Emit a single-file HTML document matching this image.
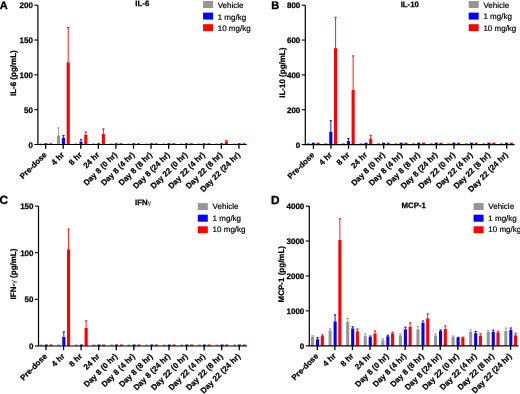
<!DOCTYPE html>
<html><head><meta charset="utf-8"><style>
html,body{margin:0;padding:0;background:#fff;}
body{width:520px;height:394px;overflow:hidden;}
svg{display:block;}
text{font-family:"Liberation Sans",Arial,sans-serif;fill:#000;text-rendering:geometricPrecision;}
.tk,.xl,.let,.ttl,.yl{stroke:#000;stroke-width:0.25px;}
.tk{font-size:8.0px;font-weight:bold;}
.xl{font-size:8.0px;font-weight:bold;}
.let{font-size:11px;font-weight:bold;stroke-width:0.35px !important;}
.ttl{font-size:7.8px;font-weight:bold;}
.yl{font-size:8px;font-weight:bold;}
.lg{font-size:8px;stroke:#000;stroke-width:0.2px;}
.gam{font-weight:normal;font-family:"Liberation Sans",sans-serif;stroke:none;fill:#333;font-size:7.4px;}
</style></head><body>
<svg width="520" height="394" viewBox="0 0 520 394">
<rect width="520" height="394" fill="#fff"/>
<rect x="39.35" y="143.39" width="3.1" height="1.11" fill="#969696"/>
<rect x="44.35" y="143.25" width="3.1" height="1.25" fill="#0000ff"/>
<rect x="49.1" y="143.25" width="3.1" height="1.25" fill="#ff0000"/>
<rect x="56.92" y="135.45" width="3.1" height="9.05" fill="#969696"/>
<line x1="58.47" y1="127.88" x2="58.47" y2="135.45" stroke="#969696" stroke-width="0.9"/>
<line x1="57.32" y1="127.88" x2="59.62" y2="127.88" stroke="#969696" stroke-width="1"/>
<rect x="61.92" y="137.74" width="3.1" height="6.76" fill="#0000ff"/>
<line x1="63.47" y1="135.55" x2="63.47" y2="137.74" stroke="#0000ff" stroke-width="0.9"/>
<line x1="62.32" y1="135.55" x2="64.62" y2="135.55" stroke="#0000ff" stroke-width="1"/>
<rect x="66.67" y="62.31" width="3.1" height="82.19" fill="#ff0000"/>
<line x1="68.22" y1="27.59" x2="68.22" y2="62.31" stroke="#ff0000" stroke-width="0.9"/>
<line x1="67.07" y1="27.59" x2="69.37" y2="27.59" stroke="#ff0000" stroke-width="1"/>
<rect x="74.49" y="143.39" width="3.1" height="1.11" fill="#969696"/>
<rect x="79.49" y="141.71" width="3.1" height="2.79" fill="#0000ff"/>
<line x1="81.04" y1="139.72" x2="81.04" y2="141.71" stroke="#0000ff" stroke-width="0.9"/>
<line x1="79.89" y1="139.72" x2="82.19" y2="139.72" stroke="#0000ff" stroke-width="1"/>
<rect x="84.24" y="134.96" width="3.1" height="9.54" fill="#ff0000"/>
<line x1="85.79" y1="132.06" x2="85.79" y2="134.96" stroke="#ff0000" stroke-width="0.9"/>
<line x1="84.64" y1="132.06" x2="86.94" y2="132.06" stroke="#ff0000" stroke-width="1"/>
<rect x="92.06" y="143.39" width="3.1" height="1.11" fill="#969696"/>
<rect x="97.06" y="143.25" width="3.1" height="1.25" fill="#0000ff"/>
<rect x="101.81" y="134.05" width="3.1" height="10.45" fill="#ff0000"/>
<line x1="103.36" y1="128.93" x2="103.36" y2="134.05" stroke="#ff0000" stroke-width="0.9"/>
<line x1="102.21" y1="128.93" x2="104.51" y2="128.93" stroke="#ff0000" stroke-width="1"/>
<rect x="109.63" y="143.39" width="3.1" height="1.11" fill="#969696"/>
<rect x="114.63" y="143.25" width="3.1" height="1.25" fill="#0000ff"/>
<rect x="119.38" y="143.25" width="3.1" height="1.25" fill="#ff0000"/>
<rect x="127.2" y="143.39" width="3.1" height="1.11" fill="#969696"/>
<rect x="132.2" y="143.25" width="3.1" height="1.25" fill="#0000ff"/>
<rect x="136.95" y="143.25" width="3.1" height="1.25" fill="#ff0000"/>
<rect x="144.77" y="143.39" width="3.1" height="1.11" fill="#969696"/>
<rect x="149.77" y="143.25" width="3.1" height="1.25" fill="#0000ff"/>
<rect x="154.52" y="143.25" width="3.1" height="1.25" fill="#ff0000"/>
<rect x="162.34" y="143.39" width="3.1" height="1.11" fill="#969696"/>
<rect x="167.34" y="143.25" width="3.1" height="1.25" fill="#0000ff"/>
<rect x="172.09" y="143.25" width="3.1" height="1.25" fill="#ff0000"/>
<rect x="179.91" y="143.39" width="3.1" height="1.11" fill="#969696"/>
<rect x="184.91" y="143.25" width="3.1" height="1.25" fill="#0000ff"/>
<rect x="189.66" y="143.25" width="3.1" height="1.25" fill="#ff0000"/>
<rect x="197.48" y="143.39" width="3.1" height="1.11" fill="#969696"/>
<rect x="202.48" y="143.25" width="3.1" height="1.25" fill="#0000ff"/>
<rect x="207.23" y="143.25" width="3.1" height="1.25" fill="#ff0000"/>
<rect x="215.05" y="143.39" width="3.1" height="1.11" fill="#969696"/>
<rect x="220.05" y="143.25" width="3.1" height="1.25" fill="#0000ff"/>
<rect x="224.8" y="141.51" width="3.1" height="2.99" fill="#ff0000"/>
<line x1="226.35" y1="140.56" x2="226.35" y2="141.51" stroke="#ff0000" stroke-width="0.9"/>
<line x1="225.2" y1="140.56" x2="227.5" y2="140.56" stroke="#ff0000" stroke-width="1"/>
<rect x="232.62" y="143.39" width="3.1" height="1.11" fill="#969696"/>
<rect x="237.62" y="143.25" width="3.1" height="1.25" fill="#0000ff"/>
<rect x="242.37" y="143.25" width="3.1" height="1.25" fill="#ff0000"/>
<path d="M37.9 5.2V144.5H246.8" fill="none" stroke="#000" stroke-width="1.2"/>
<line x1="34.3" y1="144.5" x2="37.9" y2="144.5" stroke="#000" stroke-width="1.1"/>
<text x="32.9" y="147.5" text-anchor="end" class="tk">0</text>
<line x1="34.3" y1="109.67" x2="37.9" y2="109.67" stroke="#000" stroke-width="1.1"/>
<text x="32.9" y="112.67" text-anchor="end" class="tk">50</text>
<line x1="34.3" y1="74.85" x2="37.9" y2="74.85" stroke="#000" stroke-width="1.1"/>
<text x="32.9" y="77.85" text-anchor="end" class="tk">100</text>
<line x1="34.3" y1="40.03" x2="37.9" y2="40.03" stroke="#000" stroke-width="1.1"/>
<text x="32.9" y="43.03" text-anchor="end" class="tk">150</text>
<line x1="34.3" y1="5.2" x2="37.9" y2="5.2" stroke="#000" stroke-width="1.1"/>
<text x="32.9" y="8.2" text-anchor="end" class="tk">200</text>
<line x1="45.65" y1="144.5" x2="45.65" y2="148.7" stroke="#000" stroke-width="1.3"/>
<text transform="translate(47.25,155.3) rotate(-45)" text-anchor="end" class="xl">Pre-dose</text>
<line x1="63.22" y1="144.5" x2="63.22" y2="148.7" stroke="#000" stroke-width="1.3"/>
<text transform="translate(64.82,155.3) rotate(-45)" text-anchor="end" class="xl">4 hr</text>
<line x1="80.79" y1="144.5" x2="80.79" y2="148.7" stroke="#000" stroke-width="1.3"/>
<text transform="translate(82.39,155.3) rotate(-45)" text-anchor="end" class="xl">8 hr</text>
<line x1="98.36" y1="144.5" x2="98.36" y2="148.7" stroke="#000" stroke-width="1.3"/>
<text transform="translate(99.96,155.3) rotate(-45)" text-anchor="end" class="xl">24 hr</text>
<line x1="115.93" y1="144.5" x2="115.93" y2="148.7" stroke="#000" stroke-width="1.3"/>
<text transform="translate(117.53,155.3) rotate(-45)" text-anchor="end" class="xl">Day 8 (0 hr)</text>
<line x1="133.5" y1="144.5" x2="133.5" y2="148.7" stroke="#000" stroke-width="1.3"/>
<text transform="translate(135.1,155.3) rotate(-45)" text-anchor="end" class="xl">Day 8 (4 hr)</text>
<line x1="151.07" y1="144.5" x2="151.07" y2="148.7" stroke="#000" stroke-width="1.3"/>
<text transform="translate(152.67,155.3) rotate(-45)" text-anchor="end" class="xl">Day 8 (8 hr)</text>
<line x1="168.64" y1="144.5" x2="168.64" y2="148.7" stroke="#000" stroke-width="1.3"/>
<text transform="translate(170.24,155.3) rotate(-45)" text-anchor="end" class="xl">Day 8 (24 hr)</text>
<line x1="186.21" y1="144.5" x2="186.21" y2="148.7" stroke="#000" stroke-width="1.3"/>
<text transform="translate(187.81,155.3) rotate(-45)" text-anchor="end" class="xl">Day 22 (0 hr)</text>
<line x1="203.78" y1="144.5" x2="203.78" y2="148.7" stroke="#000" stroke-width="1.3"/>
<text transform="translate(205.38,155.3) rotate(-45)" text-anchor="end" class="xl">Day 22 (4 hr)</text>
<line x1="221.35" y1="144.5" x2="221.35" y2="148.7" stroke="#000" stroke-width="1.3"/>
<text transform="translate(222.95,155.3) rotate(-45)" text-anchor="end" class="xl">Day 22 (8 hr)</text>
<line x1="238.92" y1="144.5" x2="238.92" y2="148.7" stroke="#000" stroke-width="1.3"/>
<text transform="translate(240.52,155.3) rotate(-45)" text-anchor="end" class="xl">Day 22 (24 hr)</text>
<text x="-0.3" y="8.8" class="let">A</text>
<text x="142.3" y="5.6" text-anchor="middle" class="ttl">IL-6</text>
<text transform="translate(15.9,73.2) rotate(-90)" text-anchor="middle" class="yl">IL-6 (pg/mL)</text>
<rect x="203.1" y="1" width="10" height="7" fill="#969696"/>
<text x="217.7" y="7.6" class="lg">Vehicle</text>
<rect x="203.1" y="12.6" width="10" height="7" fill="#0000ff"/>
<text x="217.7" y="19.7" class="lg">1 mg/kg</text>
<rect x="203.1" y="24.2" width="10" height="7" fill="#ff0000"/>
<text x="217.7" y="30.9" class="lg">10 mg/kg</text>
<rect x="306.7" y="143.03" width="3.1" height="1.57" fill="#969696"/>
<rect x="311.7" y="142.68" width="3.1" height="1.92" fill="#0000ff"/>
<rect x="316.45" y="142.68" width="3.1" height="1.92" fill="#ff0000"/>
<rect x="324.27" y="143.03" width="3.1" height="1.57" fill="#969696"/>
<rect x="329.27" y="131.88" width="3.1" height="12.72" fill="#0000ff"/>
<line x1="330.82" y1="120.73" x2="330.82" y2="131.88" stroke="#0000ff" stroke-width="0.9"/>
<line x1="329.67" y1="120.73" x2="331.97" y2="120.73" stroke="#0000ff" stroke-width="1"/>
<rect x="334.02" y="48.24" width="3.1" height="96.36" fill="#ff0000"/>
<line x1="335.57" y1="17.22" x2="335.57" y2="48.24" stroke="#ff0000" stroke-width="0.9"/>
<line x1="334.42" y1="17.22" x2="336.72" y2="17.22" stroke="#ff0000" stroke-width="1"/>
<rect x="341.84" y="143.03" width="3.1" height="1.57" fill="#969696"/>
<rect x="346.84" y="141.11" width="3.1" height="3.49" fill="#0000ff"/>
<line x1="348.39" y1="138.5" x2="348.39" y2="141.11" stroke="#0000ff" stroke-width="0.9"/>
<line x1="347.24" y1="138.5" x2="349.54" y2="138.5" stroke="#0000ff" stroke-width="1"/>
<rect x="351.59" y="89.89" width="3.1" height="54.71" fill="#ff0000"/>
<line x1="353.14" y1="55.91" x2="353.14" y2="89.89" stroke="#ff0000" stroke-width="0.9"/>
<line x1="351.99" y1="55.91" x2="354.29" y2="55.91" stroke="#ff0000" stroke-width="1"/>
<rect x="359.41" y="143.03" width="3.1" height="1.57" fill="#969696"/>
<rect x="364.41" y="142.68" width="3.1" height="1.92" fill="#0000ff"/>
<rect x="369.16" y="139.02" width="3.1" height="5.58" fill="#ff0000"/>
<line x1="370.71" y1="135.36" x2="370.71" y2="139.02" stroke="#ff0000" stroke-width="0.9"/>
<line x1="369.56" y1="135.36" x2="371.86" y2="135.36" stroke="#ff0000" stroke-width="1"/>
<rect x="376.98" y="143.03" width="3.1" height="1.57" fill="#969696"/>
<rect x="381.98" y="142.68" width="3.1" height="1.92" fill="#0000ff"/>
<rect x="386.73" y="142.68" width="3.1" height="1.92" fill="#ff0000"/>
<rect x="394.55" y="143.03" width="3.1" height="1.57" fill="#969696"/>
<rect x="399.55" y="142.68" width="3.1" height="1.92" fill="#0000ff"/>
<rect x="404.3" y="142.68" width="3.1" height="1.92" fill="#ff0000"/>
<rect x="412.12" y="143.03" width="3.1" height="1.57" fill="#969696"/>
<rect x="417.12" y="142.68" width="3.1" height="1.92" fill="#0000ff"/>
<rect x="421.87" y="142.68" width="3.1" height="1.92" fill="#ff0000"/>
<rect x="429.69" y="143.03" width="3.1" height="1.57" fill="#969696"/>
<rect x="434.69" y="142.68" width="3.1" height="1.92" fill="#0000ff"/>
<rect x="439.44" y="142.68" width="3.1" height="1.92" fill="#ff0000"/>
<rect x="447.26" y="143.03" width="3.1" height="1.57" fill="#969696"/>
<rect x="452.26" y="142.68" width="3.1" height="1.92" fill="#0000ff"/>
<rect x="457.01" y="142.68" width="3.1" height="1.92" fill="#ff0000"/>
<rect x="464.83" y="143.03" width="3.1" height="1.57" fill="#969696"/>
<rect x="469.83" y="142.68" width="3.1" height="1.92" fill="#0000ff"/>
<rect x="474.58" y="142.68" width="3.1" height="1.92" fill="#ff0000"/>
<rect x="482.4" y="143.03" width="3.1" height="1.57" fill="#969696"/>
<rect x="487.4" y="142.68" width="3.1" height="1.92" fill="#0000ff"/>
<rect x="492.15" y="142.68" width="3.1" height="1.92" fill="#ff0000"/>
<rect x="499.97" y="143.03" width="3.1" height="1.57" fill="#969696"/>
<rect x="504.97" y="142.68" width="3.1" height="1.92" fill="#0000ff"/>
<rect x="509.72" y="142.68" width="3.1" height="1.92" fill="#ff0000"/>
<path d="M305.3 5.2V144.6H514.5" fill="none" stroke="#000" stroke-width="1.2"/>
<line x1="301.7" y1="144.6" x2="305.3" y2="144.6" stroke="#000" stroke-width="1.1"/>
<text x="300.3" y="147.6" text-anchor="end" class="tk">0</text>
<line x1="301.7" y1="109.75" x2="305.3" y2="109.75" stroke="#000" stroke-width="1.1"/>
<text x="300.3" y="112.75" text-anchor="end" class="tk">200</text>
<line x1="301.7" y1="74.9" x2="305.3" y2="74.9" stroke="#000" stroke-width="1.1"/>
<text x="300.3" y="77.9" text-anchor="end" class="tk">400</text>
<line x1="301.7" y1="40.05" x2="305.3" y2="40.05" stroke="#000" stroke-width="1.1"/>
<text x="300.3" y="43.05" text-anchor="end" class="tk">600</text>
<line x1="301.7" y1="5.2" x2="305.3" y2="5.2" stroke="#000" stroke-width="1.1"/>
<text x="300.3" y="8.2" text-anchor="end" class="tk">800</text>
<line x1="313.4" y1="144.6" x2="313.4" y2="148.8" stroke="#000" stroke-width="1.3"/>
<text transform="translate(315,155.4) rotate(-45)" text-anchor="end" class="xl">Pre-dose</text>
<line x1="330.97" y1="144.6" x2="330.97" y2="148.8" stroke="#000" stroke-width="1.3"/>
<text transform="translate(332.57,155.4) rotate(-45)" text-anchor="end" class="xl">4 hr</text>
<line x1="348.54" y1="144.6" x2="348.54" y2="148.8" stroke="#000" stroke-width="1.3"/>
<text transform="translate(350.14,155.4) rotate(-45)" text-anchor="end" class="xl">8 hr</text>
<line x1="366.11" y1="144.6" x2="366.11" y2="148.8" stroke="#000" stroke-width="1.3"/>
<text transform="translate(367.71,155.4) rotate(-45)" text-anchor="end" class="xl">24 hr</text>
<line x1="383.68" y1="144.6" x2="383.68" y2="148.8" stroke="#000" stroke-width="1.3"/>
<text transform="translate(385.28,155.4) rotate(-45)" text-anchor="end" class="xl">Day 8 (0 hr)</text>
<line x1="401.25" y1="144.6" x2="401.25" y2="148.8" stroke="#000" stroke-width="1.3"/>
<text transform="translate(402.85,155.4) rotate(-45)" text-anchor="end" class="xl">Day 8 (4 hr)</text>
<line x1="418.82" y1="144.6" x2="418.82" y2="148.8" stroke="#000" stroke-width="1.3"/>
<text transform="translate(420.42,155.4) rotate(-45)" text-anchor="end" class="xl">Day 8 (8 hr)</text>
<line x1="436.39" y1="144.6" x2="436.39" y2="148.8" stroke="#000" stroke-width="1.3"/>
<text transform="translate(437.99,155.4) rotate(-45)" text-anchor="end" class="xl">Day 8 (24 hr)</text>
<line x1="453.96" y1="144.6" x2="453.96" y2="148.8" stroke="#000" stroke-width="1.3"/>
<text transform="translate(455.56,155.4) rotate(-45)" text-anchor="end" class="xl">Day 22 (0 hr)</text>
<line x1="471.53" y1="144.6" x2="471.53" y2="148.8" stroke="#000" stroke-width="1.3"/>
<text transform="translate(473.13,155.4) rotate(-45)" text-anchor="end" class="xl">Day 22 (4 hr)</text>
<line x1="489.1" y1="144.6" x2="489.1" y2="148.8" stroke="#000" stroke-width="1.3"/>
<text transform="translate(490.7,155.4) rotate(-45)" text-anchor="end" class="xl">Day 22 (8 hr)</text>
<line x1="506.67" y1="144.6" x2="506.67" y2="148.8" stroke="#000" stroke-width="1.3"/>
<text transform="translate(508.27,155.4) rotate(-45)" text-anchor="end" class="xl">Day 22 (24 hr)</text>
<text x="271.2" y="8.8" class="let">B</text>
<text x="409.8" y="6.5" text-anchor="middle" class="ttl">IL-10</text>
<text transform="translate(284.7,72.7) rotate(-90)" text-anchor="middle" class="yl">IL-10 (pg/mL)</text>
<rect x="468.7" y="1" width="10" height="7" fill="#969696"/>
<text x="483.4" y="7.6" class="lg">Vehicle</text>
<rect x="468.7" y="12.6" width="10" height="7" fill="#0000ff"/>
<text x="483.4" y="19.2" class="lg">1 mg/kg</text>
<rect x="468.7" y="24.2" width="10" height="7" fill="#ff0000"/>
<text x="483.4" y="30.8" class="lg">10 mg/kg</text>
<rect x="39.7" y="344.51" width="3.1" height="1.49" fill="#969696"/>
<rect x="44.7" y="344.51" width="3.1" height="1.49" fill="#0000ff"/>
<rect x="49.45" y="344.51" width="3.1" height="1.49" fill="#ff0000"/>
<rect x="57.27" y="344.51" width="3.1" height="1.49" fill="#969696"/>
<rect x="62.27" y="337.05" width="3.1" height="8.95" fill="#0000ff"/>
<line x1="63.82" y1="331.86" x2="63.82" y2="337.05" stroke="#0000ff" stroke-width="0.9"/>
<line x1="62.67" y1="331.86" x2="64.97" y2="331.86" stroke="#0000ff" stroke-width="1"/>
<rect x="67.02" y="249.38" width="3.1" height="96.62" fill="#ff0000"/>
<line x1="68.57" y1="229.08" x2="68.57" y2="249.38" stroke="#ff0000" stroke-width="0.9"/>
<line x1="67.42" y1="229.08" x2="69.72" y2="229.08" stroke="#ff0000" stroke-width="1"/>
<rect x="74.84" y="344.51" width="3.1" height="1.49" fill="#969696"/>
<rect x="79.84" y="344.51" width="3.1" height="1.49" fill="#0000ff"/>
<rect x="84.59" y="328" width="3.1" height="18" fill="#ff0000"/>
<line x1="86.14" y1="320.86" x2="86.14" y2="328" stroke="#ff0000" stroke-width="0.9"/>
<line x1="84.99" y1="320.86" x2="87.29" y2="320.86" stroke="#ff0000" stroke-width="1"/>
<rect x="92.41" y="344.51" width="3.1" height="1.49" fill="#969696"/>
<rect x="97.41" y="344.51" width="3.1" height="1.49" fill="#0000ff"/>
<rect x="102.16" y="344.51" width="3.1" height="1.49" fill="#ff0000"/>
<rect x="109.98" y="344.51" width="3.1" height="1.49" fill="#969696"/>
<rect x="114.98" y="344.51" width="3.1" height="1.49" fill="#0000ff"/>
<rect x="119.73" y="344.51" width="3.1" height="1.49" fill="#ff0000"/>
<rect x="127.55" y="344.51" width="3.1" height="1.49" fill="#969696"/>
<rect x="132.55" y="344.51" width="3.1" height="1.49" fill="#0000ff"/>
<rect x="137.3" y="344.51" width="3.1" height="1.49" fill="#ff0000"/>
<rect x="145.12" y="344.51" width="3.1" height="1.49" fill="#969696"/>
<rect x="150.12" y="344.51" width="3.1" height="1.49" fill="#0000ff"/>
<rect x="154.87" y="344.51" width="3.1" height="1.49" fill="#ff0000"/>
<rect x="162.69" y="344.51" width="3.1" height="1.49" fill="#969696"/>
<rect x="167.69" y="344.51" width="3.1" height="1.49" fill="#0000ff"/>
<rect x="172.44" y="344.51" width="3.1" height="1.49" fill="#ff0000"/>
<rect x="180.26" y="344.51" width="3.1" height="1.49" fill="#969696"/>
<rect x="185.26" y="344.51" width="3.1" height="1.49" fill="#0000ff"/>
<rect x="190.01" y="344.51" width="3.1" height="1.49" fill="#ff0000"/>
<rect x="197.83" y="344.51" width="3.1" height="1.49" fill="#969696"/>
<rect x="202.83" y="344.51" width="3.1" height="1.49" fill="#0000ff"/>
<rect x="207.58" y="344.51" width="3.1" height="1.49" fill="#ff0000"/>
<rect x="215.4" y="344.51" width="3.1" height="1.49" fill="#969696"/>
<rect x="220.4" y="344.51" width="3.1" height="1.49" fill="#0000ff"/>
<rect x="225.15" y="344.51" width="3.1" height="1.49" fill="#ff0000"/>
<rect x="232.97" y="344.51" width="3.1" height="1.49" fill="#969696"/>
<rect x="237.97" y="344.51" width="3.1" height="1.49" fill="#0000ff"/>
<rect x="242.72" y="344.51" width="3.1" height="1.49" fill="#ff0000"/>
<path d="M38.5 206.1V346H247" fill="none" stroke="#000" stroke-width="1.2"/>
<line x1="34.9" y1="346" x2="38.5" y2="346" stroke="#000" stroke-width="1.1"/>
<text x="33.5" y="349" text-anchor="end" class="tk">0</text>
<line x1="34.9" y1="299.37" x2="38.5" y2="299.37" stroke="#000" stroke-width="1.1"/>
<text x="33.5" y="302.37" text-anchor="end" class="tk">50</text>
<line x1="34.9" y1="252.73" x2="38.5" y2="252.73" stroke="#000" stroke-width="1.1"/>
<text x="33.5" y="255.73" text-anchor="end" class="tk">100</text>
<line x1="34.9" y1="206.1" x2="38.5" y2="206.1" stroke="#000" stroke-width="1.1"/>
<text x="33.5" y="209.1" text-anchor="end" class="tk">150</text>
<line x1="46" y1="346" x2="46" y2="350.2" stroke="#000" stroke-width="1.3"/>
<text transform="translate(47.6,356.8) rotate(-45)" text-anchor="end" class="xl">Pre-dose</text>
<line x1="63.57" y1="346" x2="63.57" y2="350.2" stroke="#000" stroke-width="1.3"/>
<text transform="translate(65.17,356.8) rotate(-45)" text-anchor="end" class="xl">4 hr</text>
<line x1="81.14" y1="346" x2="81.14" y2="350.2" stroke="#000" stroke-width="1.3"/>
<text transform="translate(82.74,356.8) rotate(-45)" text-anchor="end" class="xl">8 hr</text>
<line x1="98.71" y1="346" x2="98.71" y2="350.2" stroke="#000" stroke-width="1.3"/>
<text transform="translate(100.31,356.8) rotate(-45)" text-anchor="end" class="xl">24 hr</text>
<line x1="116.28" y1="346" x2="116.28" y2="350.2" stroke="#000" stroke-width="1.3"/>
<text transform="translate(117.88,356.8) rotate(-45)" text-anchor="end" class="xl">Day 8 (0 hr)</text>
<line x1="133.85" y1="346" x2="133.85" y2="350.2" stroke="#000" stroke-width="1.3"/>
<text transform="translate(135.45,356.8) rotate(-45)" text-anchor="end" class="xl">Day 8 (4 hr)</text>
<line x1="151.42" y1="346" x2="151.42" y2="350.2" stroke="#000" stroke-width="1.3"/>
<text transform="translate(153.02,356.8) rotate(-45)" text-anchor="end" class="xl">Day 8 (8 hr)</text>
<line x1="168.99" y1="346" x2="168.99" y2="350.2" stroke="#000" stroke-width="1.3"/>
<text transform="translate(170.59,356.8) rotate(-45)" text-anchor="end" class="xl">Day 8 (24 hr)</text>
<line x1="186.56" y1="346" x2="186.56" y2="350.2" stroke="#000" stroke-width="1.3"/>
<text transform="translate(188.16,356.8) rotate(-45)" text-anchor="end" class="xl">Day 22 (0 hr)</text>
<line x1="204.13" y1="346" x2="204.13" y2="350.2" stroke="#000" stroke-width="1.3"/>
<text transform="translate(205.73,356.8) rotate(-45)" text-anchor="end" class="xl">Day 22 (4 hr)</text>
<line x1="221.7" y1="346" x2="221.7" y2="350.2" stroke="#000" stroke-width="1.3"/>
<text transform="translate(223.3,356.8) rotate(-45)" text-anchor="end" class="xl">Day 22 (8 hr)</text>
<line x1="239.27" y1="346" x2="239.27" y2="350.2" stroke="#000" stroke-width="1.3"/>
<text transform="translate(240.87,356.8) rotate(-45)" text-anchor="end" class="xl">Day 22 (24 hr)</text>
<text x="-0.4" y="203.7" class="let" style="font-size:11.8px">C</text>
<text x="135" y="204.8" class="ttl">IFN<tspan class="gam">γ</tspan></text>
<text transform="translate(15.6,274) rotate(-90)" text-anchor="middle" class="yl">IFN-<tspan class="gam">γ</tspan> (pg/mL)</text>
<rect x="197.8" y="203.1" width="10" height="7" fill="#969696"/>
<text x="212.6" y="209" class="lg">Vehicle</text>
<rect x="197.8" y="214.7" width="10" height="7" fill="#0000ff"/>
<text x="212.6" y="220.6" class="lg">1 mg/kg</text>
<rect x="197.8" y="226.3" width="10" height="7" fill="#ff0000"/>
<text x="212.6" y="232.2" class="lg">10 mg/kg</text>
<rect x="311" y="336.89" width="3.1" height="8.91" fill="#969696"/>
<line x1="312.55" y1="335.82" x2="312.55" y2="336.89" stroke="#969696" stroke-width="0.9"/>
<line x1="311.4" y1="335.82" x2="313.7" y2="335.82" stroke="#969696" stroke-width="1"/>
<rect x="316" y="339.3" width="3.1" height="6.5" fill="#0000ff"/>
<line x1="317.55" y1="337.57" x2="317.55" y2="339.3" stroke="#0000ff" stroke-width="0.9"/>
<line x1="316.4" y1="337.57" x2="318.7" y2="337.57" stroke="#0000ff" stroke-width="1"/>
<rect x="320.75" y="336.09" width="3.1" height="9.71" fill="#ff0000"/>
<line x1="322.3" y1="334.77" x2="322.3" y2="336.09" stroke="#ff0000" stroke-width="0.9"/>
<line x1="321.15" y1="334.77" x2="323.45" y2="334.77" stroke="#ff0000" stroke-width="1"/>
<rect x="328.57" y="330.4" width="3.1" height="15.4" fill="#969696"/>
<line x1="330.12" y1="328.8" x2="330.12" y2="330.4" stroke="#969696" stroke-width="0.9"/>
<line x1="328.97" y1="328.8" x2="331.27" y2="328.8" stroke="#969696" stroke-width="1"/>
<rect x="333.57" y="321.39" width="3.1" height="24.41" fill="#0000ff"/>
<line x1="335.12" y1="314.87" x2="335.12" y2="321.39" stroke="#0000ff" stroke-width="0.9"/>
<line x1="333.97" y1="314.87" x2="336.27" y2="314.87" stroke="#0000ff" stroke-width="1"/>
<rect x="338.32" y="239.98" width="3.1" height="105.82" fill="#ff0000"/>
<line x1="339.87" y1="218.82" x2="339.87" y2="239.98" stroke="#ff0000" stroke-width="0.9"/>
<line x1="338.72" y1="218.82" x2="341.02" y2="218.82" stroke="#ff0000" stroke-width="1"/>
<rect x="346.14" y="321.7" width="3.1" height="24.1" fill="#969696"/>
<line x1="347.69" y1="318.36" x2="347.69" y2="321.7" stroke="#969696" stroke-width="0.9"/>
<line x1="346.54" y1="318.36" x2="348.84" y2="318.36" stroke="#969696" stroke-width="1"/>
<rect x="351.14" y="328.48" width="3.1" height="17.32" fill="#0000ff"/>
<line x1="352.69" y1="326.78" x2="352.69" y2="328.48" stroke="#0000ff" stroke-width="0.9"/>
<line x1="351.54" y1="326.78" x2="353.84" y2="326.78" stroke="#0000ff" stroke-width="1"/>
<rect x="355.89" y="331.31" width="3.1" height="14.49" fill="#ff0000"/>
<line x1="357.44" y1="328.98" x2="357.44" y2="331.31" stroke="#ff0000" stroke-width="0.9"/>
<line x1="356.29" y1="328.98" x2="358.59" y2="328.98" stroke="#ff0000" stroke-width="1"/>
<rect x="363.71" y="336.09" width="3.1" height="9.71" fill="#969696"/>
<line x1="365.26" y1="333.9" x2="365.26" y2="336.09" stroke="#969696" stroke-width="0.9"/>
<line x1="364.11" y1="333.9" x2="366.41" y2="333.9" stroke="#969696" stroke-width="1"/>
<rect x="368.71" y="337.1" width="3.1" height="8.7" fill="#0000ff"/>
<line x1="370.26" y1="336" x2="370.26" y2="337.1" stroke="#0000ff" stroke-width="0.9"/>
<line x1="369.11" y1="336" x2="371.41" y2="336" stroke="#0000ff" stroke-width="1"/>
<rect x="373.46" y="333.4" width="3.1" height="12.4" fill="#ff0000"/>
<line x1="375.01" y1="330.9" x2="375.01" y2="333.4" stroke="#ff0000" stroke-width="0.9"/>
<line x1="373.86" y1="330.9" x2="376.16" y2="330.9" stroke="#ff0000" stroke-width="1"/>
<rect x="381.28" y="340.21" width="3.1" height="5.59" fill="#969696"/>
<line x1="382.83" y1="338.9" x2="382.83" y2="340.21" stroke="#969696" stroke-width="0.9"/>
<line x1="381.68" y1="338.9" x2="383.98" y2="338.9" stroke="#969696" stroke-width="1"/>
<rect x="386.28" y="336.3" width="3.1" height="9.5" fill="#0000ff"/>
<line x1="387.83" y1="335.19" x2="387.83" y2="336.3" stroke="#0000ff" stroke-width="0.9"/>
<line x1="386.68" y1="335.19" x2="388.98" y2="335.19" stroke="#0000ff" stroke-width="1"/>
<rect x="391.03" y="333.4" width="3.1" height="12.4" fill="#ff0000"/>
<line x1="392.58" y1="332.09" x2="392.58" y2="333.4" stroke="#ff0000" stroke-width="0.9"/>
<line x1="391.43" y1="332.09" x2="393.73" y2="332.09" stroke="#ff0000" stroke-width="1"/>
<rect x="398.85" y="335.29" width="3.1" height="10.51" fill="#969696"/>
<line x1="400.4" y1="333.9" x2="400.4" y2="335.29" stroke="#969696" stroke-width="0.9"/>
<line x1="399.25" y1="333.9" x2="401.55" y2="333.9" stroke="#969696" stroke-width="1"/>
<rect x="403.85" y="329.39" width="3.1" height="16.41" fill="#0000ff"/>
<line x1="405.4" y1="327.2" x2="405.4" y2="329.39" stroke="#0000ff" stroke-width="0.9"/>
<line x1="404.25" y1="327.2" x2="406.55" y2="327.2" stroke="#0000ff" stroke-width="1"/>
<rect x="408.6" y="326.7" width="3.1" height="19.1" fill="#ff0000"/>
<line x1="410.15" y1="322.87" x2="410.15" y2="326.7" stroke="#ff0000" stroke-width="0.9"/>
<line x1="409" y1="322.87" x2="411.3" y2="322.87" stroke="#ff0000" stroke-width="1"/>
<rect x="416.42" y="329.39" width="3.1" height="16.41" fill="#969696"/>
<line x1="417.97" y1="326.5" x2="417.97" y2="329.39" stroke="#969696" stroke-width="0.9"/>
<line x1="416.82" y1="326.5" x2="419.12" y2="326.5" stroke="#969696" stroke-width="1"/>
<rect x="421.42" y="322.99" width="3.1" height="22.81" fill="#0000ff"/>
<line x1="422.97" y1="320.98" x2="422.97" y2="322.99" stroke="#0000ff" stroke-width="0.9"/>
<line x1="421.82" y1="320.98" x2="424.12" y2="320.98" stroke="#0000ff" stroke-width="1"/>
<rect x="426.17" y="318.38" width="3.1" height="27.42" fill="#ff0000"/>
<line x1="427.72" y1="313.89" x2="427.72" y2="318.38" stroke="#ff0000" stroke-width="0.9"/>
<line x1="426.57" y1="313.89" x2="428.87" y2="313.89" stroke="#ff0000" stroke-width="1"/>
<rect x="433.99" y="335.6" width="3.1" height="10.2" fill="#969696"/>
<line x1="435.54" y1="333.9" x2="435.54" y2="335.6" stroke="#969696" stroke-width="0.9"/>
<line x1="434.39" y1="333.9" x2="436.69" y2="333.9" stroke="#969696" stroke-width="1"/>
<rect x="438.99" y="330.99" width="3.1" height="14.81" fill="#0000ff"/>
<line x1="440.54" y1="329.89" x2="440.54" y2="330.99" stroke="#0000ff" stroke-width="0.9"/>
<line x1="439.39" y1="329.89" x2="441.69" y2="329.89" stroke="#0000ff" stroke-width="1"/>
<rect x="443.74" y="329.11" width="3.1" height="16.69" fill="#ff0000"/>
<line x1="445.29" y1="325.87" x2="445.29" y2="329.11" stroke="#ff0000" stroke-width="0.9"/>
<line x1="444.14" y1="325.87" x2="446.44" y2="325.87" stroke="#ff0000" stroke-width="1"/>
<rect x="451.56" y="336.89" width="3.1" height="8.91" fill="#969696"/>
<line x1="453.11" y1="336" x2="453.11" y2="336.89" stroke="#969696" stroke-width="0.9"/>
<line x1="451.96" y1="336" x2="454.26" y2="336" stroke="#969696" stroke-width="1"/>
<rect x="456.56" y="337.7" width="3.1" height="8.1" fill="#0000ff"/>
<line x1="458.11" y1="337.29" x2="458.11" y2="337.7" stroke="#0000ff" stroke-width="0.9"/>
<line x1="456.96" y1="337.29" x2="459.26" y2="337.29" stroke="#0000ff" stroke-width="1"/>
<rect x="461.31" y="337.38" width="3.1" height="8.42" fill="#ff0000"/>
<line x1="462.86" y1="337.15" x2="462.86" y2="337.38" stroke="#ff0000" stroke-width="0.9"/>
<line x1="461.71" y1="337.15" x2="464.01" y2="337.15" stroke="#ff0000" stroke-width="1"/>
<rect x="469.13" y="332" width="3.1" height="13.8" fill="#969696"/>
<line x1="470.68" y1="329.99" x2="470.68" y2="332" stroke="#969696" stroke-width="0.9"/>
<line x1="469.53" y1="329.99" x2="471.83" y2="329.99" stroke="#969696" stroke-width="1"/>
<rect x="474.13" y="333.19" width="3.1" height="12.61" fill="#0000ff"/>
<line x1="475.68" y1="331.49" x2="475.68" y2="333.19" stroke="#0000ff" stroke-width="0.9"/>
<line x1="474.53" y1="331.49" x2="476.83" y2="331.49" stroke="#0000ff" stroke-width="1"/>
<rect x="478.88" y="335.88" width="3.1" height="9.92" fill="#ff0000"/>
<line x1="480.43" y1="333.9" x2="480.43" y2="335.88" stroke="#ff0000" stroke-width="0.9"/>
<line x1="479.28" y1="333.9" x2="481.58" y2="333.9" stroke="#ff0000" stroke-width="1"/>
<rect x="486.7" y="332" width="3.1" height="13.8" fill="#969696"/>
<line x1="488.25" y1="330.58" x2="488.25" y2="332" stroke="#969696" stroke-width="0.9"/>
<line x1="487.1" y1="330.58" x2="489.4" y2="330.58" stroke="#969696" stroke-width="1"/>
<rect x="491.7" y="332" width="3.1" height="13.8" fill="#0000ff"/>
<line x1="493.25" y1="330.2" x2="493.25" y2="332" stroke="#0000ff" stroke-width="0.9"/>
<line x1="492.1" y1="330.2" x2="494.4" y2="330.2" stroke="#0000ff" stroke-width="1"/>
<rect x="496.45" y="332.39" width="3.1" height="13.41" fill="#ff0000"/>
<line x1="498" y1="331.18" x2="498" y2="332.39" stroke="#ff0000" stroke-width="0.9"/>
<line x1="496.85" y1="331.18" x2="499.15" y2="331.18" stroke="#ff0000" stroke-width="1"/>
<rect x="504.27" y="330.99" width="3.1" height="14.81" fill="#969696"/>
<line x1="505.82" y1="328" x2="505.82" y2="330.99" stroke="#969696" stroke-width="0.9"/>
<line x1="504.67" y1="328" x2="506.97" y2="328" stroke="#969696" stroke-width="1"/>
<rect x="509.27" y="330.08" width="3.1" height="15.72" fill="#0000ff"/>
<line x1="510.82" y1="328" x2="510.82" y2="330.08" stroke="#0000ff" stroke-width="0.9"/>
<line x1="509.67" y1="328" x2="511.97" y2="328" stroke="#0000ff" stroke-width="1"/>
<rect x="514.02" y="335.29" width="3.1" height="10.51" fill="#ff0000"/>
<line x1="515.57" y1="333.31" x2="515.57" y2="335.29" stroke="#ff0000" stroke-width="0.9"/>
<line x1="514.42" y1="333.31" x2="516.72" y2="333.31" stroke="#ff0000" stroke-width="1"/>
<path d="M309.3 206.1V345.8H518.6" fill="none" stroke="#000" stroke-width="1.2"/>
<line x1="305.7" y1="345.8" x2="309.3" y2="345.8" stroke="#000" stroke-width="1.1"/>
<text x="304.3" y="348.8" text-anchor="end" class="tk">0</text>
<line x1="305.7" y1="310.88" x2="309.3" y2="310.88" stroke="#000" stroke-width="1.1"/>
<text x="304.3" y="313.88" text-anchor="end" class="tk">1000</text>
<line x1="305.7" y1="275.95" x2="309.3" y2="275.95" stroke="#000" stroke-width="1.1"/>
<text x="304.3" y="278.95" text-anchor="end" class="tk">2000</text>
<line x1="305.7" y1="241.03" x2="309.3" y2="241.03" stroke="#000" stroke-width="1.1"/>
<text x="304.3" y="244.03" text-anchor="end" class="tk">3000</text>
<line x1="305.7" y1="206.1" x2="309.3" y2="206.1" stroke="#000" stroke-width="1.1"/>
<text x="304.3" y="209.1" text-anchor="end" class="tk">4000</text>
<line x1="317.3" y1="345.8" x2="317.3" y2="350" stroke="#000" stroke-width="1.3"/>
<text transform="translate(318.9,356.6) rotate(-45)" text-anchor="end" class="xl">Pre-dose</text>
<line x1="334.87" y1="345.8" x2="334.87" y2="350" stroke="#000" stroke-width="1.3"/>
<text transform="translate(336.47,356.6) rotate(-45)" text-anchor="end" class="xl">4 hr</text>
<line x1="352.44" y1="345.8" x2="352.44" y2="350" stroke="#000" stroke-width="1.3"/>
<text transform="translate(354.04,356.6) rotate(-45)" text-anchor="end" class="xl">8 hr</text>
<line x1="370.01" y1="345.8" x2="370.01" y2="350" stroke="#000" stroke-width="1.3"/>
<text transform="translate(371.61,356.6) rotate(-45)" text-anchor="end" class="xl">24 hr</text>
<line x1="387.58" y1="345.8" x2="387.58" y2="350" stroke="#000" stroke-width="1.3"/>
<text transform="translate(389.18,356.6) rotate(-45)" text-anchor="end" class="xl">Day 8 (0 hr)</text>
<line x1="405.15" y1="345.8" x2="405.15" y2="350" stroke="#000" stroke-width="1.3"/>
<text transform="translate(406.75,356.6) rotate(-45)" text-anchor="end" class="xl">Day 8 (4 hr)</text>
<line x1="422.72" y1="345.8" x2="422.72" y2="350" stroke="#000" stroke-width="1.3"/>
<text transform="translate(424.32,356.6) rotate(-45)" text-anchor="end" class="xl">Day 8 (8 hr)</text>
<line x1="440.29" y1="345.8" x2="440.29" y2="350" stroke="#000" stroke-width="1.3"/>
<text transform="translate(441.89,356.6) rotate(-45)" text-anchor="end" class="xl">Day 8 (24 hr)</text>
<line x1="457.86" y1="345.8" x2="457.86" y2="350" stroke="#000" stroke-width="1.3"/>
<text transform="translate(459.46,356.6) rotate(-45)" text-anchor="end" class="xl">Day 22 (0 hr)</text>
<line x1="475.43" y1="345.8" x2="475.43" y2="350" stroke="#000" stroke-width="1.3"/>
<text transform="translate(477.03,356.6) rotate(-45)" text-anchor="end" class="xl">Day 22 (4 hr)</text>
<line x1="493" y1="345.8" x2="493" y2="350" stroke="#000" stroke-width="1.3"/>
<text transform="translate(494.6,356.6) rotate(-45)" text-anchor="end" class="xl">Day 22 (8 hr)</text>
<line x1="510.57" y1="345.8" x2="510.57" y2="350" stroke="#000" stroke-width="1.3"/>
<text transform="translate(512.17,356.6) rotate(-45)" text-anchor="end" class="xl">Day 22 (24 hr)</text>
<text x="271" y="203.7" class="let" style="font-size:11.8px">D</text>
<text x="413.7" y="207.9" text-anchor="middle" class="ttl">MCP-1</text>
<text transform="translate(284,274.2) rotate(-90)" text-anchor="middle" class="yl">MCP-1 (pg/mL)</text>
<rect x="473.6" y="203.1" width="10" height="7" fill="#969696"/>
<text x="488.3" y="209.2" class="lg">Vehicle</text>
<rect x="473.6" y="214.7" width="10" height="7" fill="#0000ff"/>
<text x="488.3" y="220.8" class="lg">1 mg/kg</text>
<rect x="473.6" y="226.3" width="10" height="7" fill="#ff0000"/>
<text x="488.3" y="232.4" class="lg">10 mg/kg</text>
</svg>
</body></html>
